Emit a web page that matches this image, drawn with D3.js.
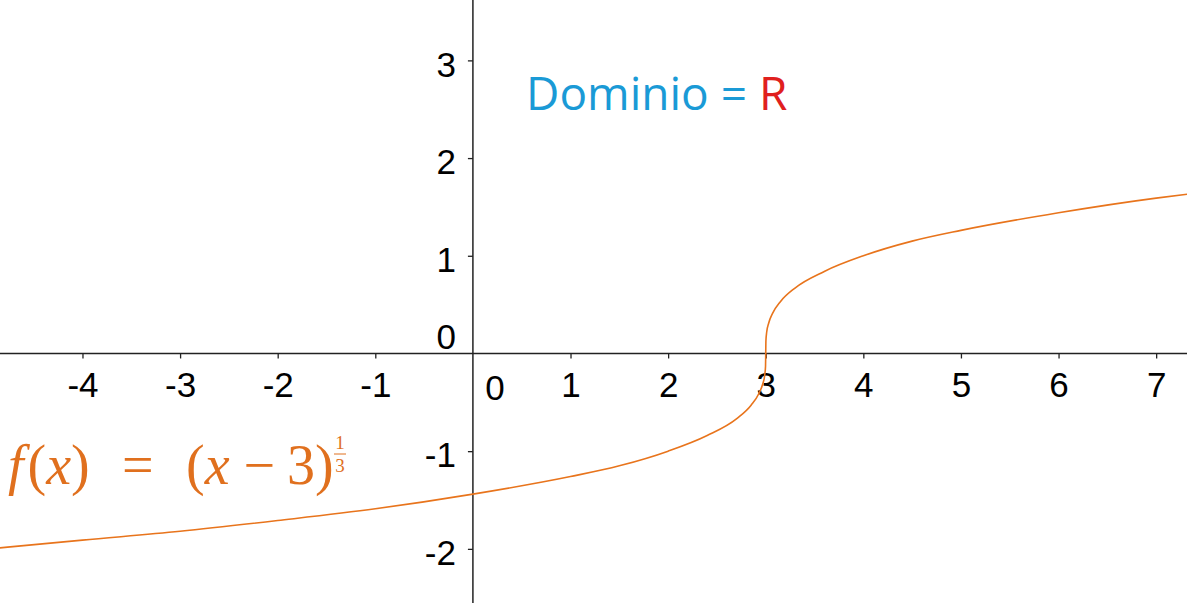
<!DOCTYPE html>
<html>
<head>
<meta charset="utf-8">
<script src="https://cdn.jsdelivr.net/npm/d3@7"></script>
<style>
  body { margin:0; background:#fff; }
  .tick text { font-family:"Liberation Sans", Arial, sans-serif; font-size:35px; fill:#000; }
</style>
</head>
<body>
<svg id="chart" width="1187" height="603"></svg>
<script>
// points
var xs = [-4.85, -4, -3, -2, -1, 0, 1, 1.5, 2, 2.4, 2.7, 2.85, 2.93, 2.97, 2.99, 2.998, 3,
          3.002, 3.01, 3.03, 3.07, 3.15, 3.3, 3.6, 4, 4.5, 5, 6, 7, 7.32];
var ys = [-1.99, -1.91, -1.82, -1.71, -1.59, -1.44, -1.26, -1.15, -1.0, -0.84, -0.67, -0.53, -0.41, -0.31, -0.22, -0.13, 0,
          0.13, 0.22, 0.31, 0.41, 0.53, 0.67, 0.84, 1.0, 1.15, 1.26, 1.44, 1.59, 1.63];
var xTicks = [-4, -3, -2, -1, 1, 2, 3, 4, 5, 6, 7];
var yTicks = [-2, -1, 1, 2, 3];

var W = 1187, H = 603;
var svg = d3.select('#chart');
var fmt = function(d) { return String(d); };  // plain hyphen minus

var x = d3.scaleLinear().domain([-4.845, 7.316]).range([0, W]);
var y = d3.scaleLinear().domain([-2.554, 3.618]).range([H, 0]);

// x axis
var gx = svg.append('g').attr('transform', 'translate(0,' + y(0) + ')')
  .call(d3.axisBottom(x).tickValues(xTicks).tickSize(5).tickSizeOuter(0).tickPadding(14).tickFormat(fmt));
gx.select('.domain').attr('d', 'M0,0H' + W).attr('stroke', '#222').attr('stroke-width', 1.5);
gx.selectAll('.tick line').attr('stroke', '#222').attr('stroke-width', 1.3);

// y axis
var gy = svg.append('g').attr('transform', 'translate(' + x(0) + ',0)')
  .call(d3.axisLeft(y).tickValues(yTicks).tickSize(5).tickSizeOuter(0).tickPadding(12).tickFormat(fmt));
gy.select('.domain').attr('d', 'M0,0V' + H).attr('stroke', '#222').attr('stroke-width', 1.5);
gy.selectAll('.tick line').attr('stroke', '#222').attr('stroke-width', 1.3);
gy.selectAll('.tick text').attr('dy', '0.45em');

// the two zeros
svg.append('text').attr('x', x(0) - 17).attr('y', y(0) - 4).attr('text-anchor', 'end')
  .style('font-family', '"Liberation Sans", Arial, sans-serif').style('font-size', '35px').text('0');
svg.append('text').attr('x', x(0) + 22).attr('y', y(0) + 47).attr('text-anchor', 'middle')
  .style('font-family', '"Liberation Sans", Arial, sans-serif').style('font-size', '35px').text('0');

// curve
var pts = xs.map(function(d, i) { return [d, ys[i]]; });
var line = d3.line().x(function(d) { return x(d[0]); }).y(function(d) { return y(d[1]); }).curve(d3.curveMonotoneX);
svg.append('path').datum(pts).attr('d', line)
  .attr('fill', 'none').attr('stroke', '#e8741c').attr('stroke-width', 1.6);

// Dominio label
var dom = svg.append('text').attr('x', 526).attr('y', 110)
  .style('font-family', '"Open Sans", "Noto Sans", sans-serif').style('font-size', '46px');
dom.append('tspan').attr('fill', '#1a9ad6').text('Dominio = ');
dom.append('tspan').attr('fill', '#e0201e').text('R');

// formula label
var fcol = '#e0701e';
var f = svg.append('g').attr('fill', fcol).style('font-family', '"Liberation Serif", "DejaVu Serif", serif').style('font-size', '56px');
var lhs = f.append('text').attr('x', 8).attr('y', 484);
lhs.append('tspan').style('font-style', 'italic').text('f');
lhs.append('tspan').attr('dx', 4).text('(');
lhs.append('tspan').style('font-style', 'italic').text('x');
lhs.append('tspan').text(')');
f.append('text').attr('x', 122).attr('y', 484).text('=');
var rhs = f.append('text').attr('x', 186).attr('y', 484);
rhs.append('tspan').text('(');
rhs.append('tspan').style('font-style', 'italic').text('x');
rhs.append('tspan').attr('dx', 14).text('\u2212');
rhs.append('tspan').attr('dx', 12).text('3');
rhs.append('tspan').text(')');
f.append('text').attr('x', 340).attr('y', 449).attr('text-anchor', 'middle').style('font-size', '19px').text('1');
f.append('line').attr('x1', 334).attr('x2', 346).attr('y1', 454).attr('y2', 454).attr('stroke', fcol).attr('stroke-width', 1);
f.append('text').attr('x', 340).attr('y', 472).attr('text-anchor', 'middle').style('font-size', '19px').text('3');
</script>
</body>
</html>
